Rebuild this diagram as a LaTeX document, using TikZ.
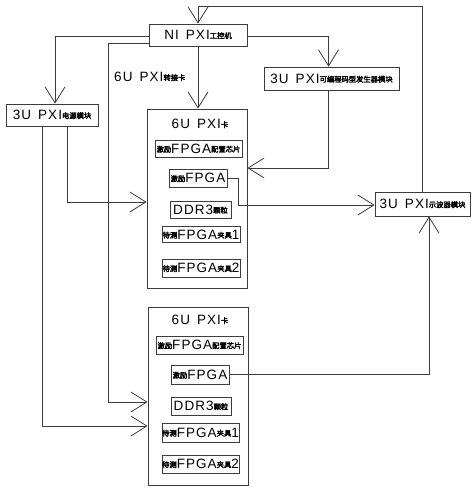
\documentclass[tikz,border=0pt]{standalone}
\usepackage{fontspec}
\usetikzlibrary{arrows.meta,calc}
\newfontfamily\latf[LetterSpace=8]{Liberation Sans}
\newfontfamily\cjkf[FakeBold=3]{Noto Sans CJK SC}
\newcommand{\zh}[1]{\raisebox{1.2pt}{\fontsize{7.3}{8}\selectfont\cjkf #1}}
\newcommand{\en}[1]{{\fontsize{13.5}{14}\selectfont\latf #1}}
\newcommand{\gap}{\hspace{7pt}}
\definecolor{linec}{HTML}{3C3C3C}
\begin{document}
\begin{tikzpicture}[x=1pt,y=-1pt,
  box/.style={draw=linec, line width=0.8pt, inner sep=0pt, align=center, text=black},
  arr/.style={draw=linec, line width=0.8pt, -{Straight Barb[length=16pt,width=20pt,line width=0.8pt]}},
  ln/.style={draw=linec, line width=0.8pt}]
\useasboundingbox (0,0) rectangle (474,489);
% main boxes
\node[box, minimum width=98pt, minimum height=22pt] (ni) at (198,35) {\en{NI\gap PXI}\zh{工控机}};
\node[box, minimum width=92pt, minimum height=22pt] (pwr) at (52,115) {\en{3U\gap PXI}\zh{电源模块}};
\node[box, minimum width=135pt, minimum height=23pt] (pat) at (331.5,78.5) {\en{3U\gap PXI}\zh{可编程码型发生器模块}};
\node[box, minimum width=95pt, minimum height=24pt] (osc) at (422.5,204) {\en{3U\gap PXI}\zh{示波器模块}};
\node[anchor=west, inner sep=0pt] (lbl) at (114,77) {\en{6U\gap PXI}\zh{转接卡}};
% card 1
\node[box, minimum width=100pt, minimum height=179pt] (card1) at (197,198.5) {};
\node[inner sep=0pt] (t1) at (200,124) {\en{6U\gap PXI}\zh{卡}};
\node[box, minimum width=87pt, minimum height=17pt] (c1cfg) at (198.5,148.5) {\zh{激励}\en{FPGA}\zh{配置芯片}};
\node[box, minimum width=58pt, minimum height=18pt] (c1fpga) at (198,178) {\zh{激励}\en{FPGA}};
\node[box, minimum width=61pt, minimum height=17pt] (c1ddr) at (200.5,209.5) {\en{DDR3}\zh{颗粒}};
\node[box, minimum width=78pt, minimum height=16pt] (c1j1) at (201,234.5) {\zh{待测}\en{FPGA}\zh{夹具}\en{1}};
\node[box, minimum width=78pt, minimum height=18pt] (c1j2) at (201,268) {\zh{待测}\en{FPGA}\zh{夹具}\en{2}};
% card 2
\node[box, minimum width=100pt, minimum height=178pt] (card2) at (198,396) {};
\node[inner sep=0pt] (t2) at (200,320) {\en{6U\gap PXI}\zh{卡}};
\node[box, minimum width=87pt, minimum height=18pt] (c2cfg) at (199.5,345) {\zh{激励}\en{FPGA}\zh{配置芯片}};
\node[box, minimum width=58pt, minimum height=19pt] (c2fpga) at (200,374.5) {\zh{激励}\en{FPGA}};
\node[box, minimum width=60pt, minimum height=18pt] (c2ddr) at (201,406) {\en{DDR3}\zh{颗粒}};
\node[box, minimum width=77pt, minimum height=19pt] (c2j1) at (200.5,432.5) {\zh{待测}\en{FPGA}\zh{夹具}\en{1}};
\node[box, minimum width=77pt, minimum height=18pt] (c2j2) at (200.5,464) {\zh{待测}\en{FPGA}\zh{夹具}\en{2}};
% corner coordinates
\coordinate (ktop) at (0,6);
\coordinate (k2) at (108,402);
\coordinate (kpat) at (0,168);
\coordinate (kp1) at (0,202);
\coordinate (kp2) at (0,426);
\coordinate (kf1) at (238,205);
\coordinate (kf2) at (429,374.5);
% connectors
\draw[arr] (osc.north) |- (ni.north |- ktop) -- (ni.north);
\draw[arr] ($(ni.west)+(0,1)$) -| ($(pwr.north)+(3,0)$);
\draw[arr] ($(ni.west)+(0,8)$) -| (k2) -- (card2.west |- k2);
\draw[arr] ($(ni.east)+(0,1)$) -| ($(pat.north)+(-3,0)$);
\draw[arr] (ni.south) -- (ni.south |- card1.north);
\draw[arr] ($(pat.south)+(-3,0)$) |- (card1.east |- kpat);
\draw[arr] ($(pwr.south)+(-10,0)$) |- (card2.west |- kp2);
\draw[arr] ($(pwr.south)+(15,0)$) |- (card1.west |- kp1);
\draw[arr] (c1fpga.east) -| (kf1) -- (osc.west |- kf1);
\draw[arr] (c2fpga.east) -| (osc.south -| kf2);
\end{tikzpicture}
\end{document}
